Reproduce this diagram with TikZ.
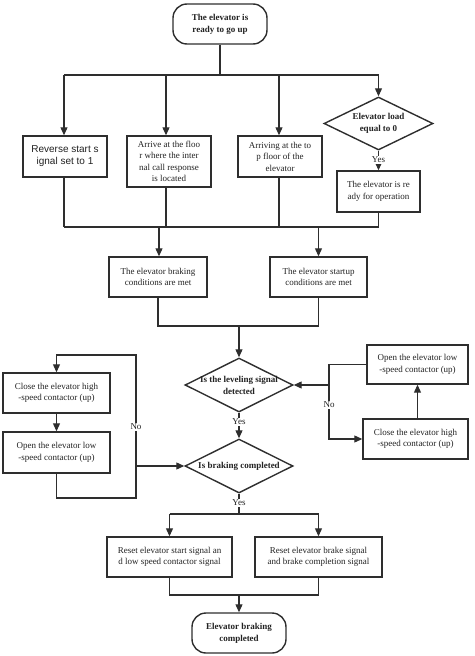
\documentclass[tikz,border=0pt]{standalone}
\usepackage{fontspec}
\setmainfont{Liberation Serif}
\newfontfamily\boxsans{Liberation Sans}
\usetikzlibrary{shapes.geometric,arrows.meta}
\definecolor{ln}{HTML}{2E2E2E}
\definecolor{tx}{HTML}{222222}
\tikzset{
  base/.style={draw=ln,line width=1.4pt,text=tx,inner sep=0pt,align=center,font=\fontsize{9}{11.5}\selectfont},
  proc/.style={base,rectangle},
  term/.style={base,rectangle,rounded corners=14pt,font=\fontsize{9}{12}\selectfont\bfseries},
  dec/.style={base,diamond},
  dtext/.style={text=tx,align=center,inner sep=0pt,font=\fontsize{9}{12}\selectfont\bfseries},
  lab/.style={fill=white,text=tx,inner sep=1pt,font=\fontsize{9}{11}\selectfont},
  conn/.style={draw=ln,line width=1.1pt},
  arr/.style={conn,-{Triangle[length=8pt,width=7pt]}}
}
\begin{document}
\begin{tikzpicture}[x=1pt,y=-1pt]
\useasboundingbox (0,0) rectangle (474,656);
% nodes
\node[term,minimum width=94pt,minimum height=40pt] (start) at (220,24) {The elevator is\\ready to go up};
\node[proc,minimum width=84pt,minimum height=41pt,font=\fontsize{10}{12}\selectfont\boxsans] (b1) at (65,156.5) {Reverse start s\\ignal set to 1};
\node[proc,minimum width=84pt,minimum height=51pt] (b2) at (169,161.5) {Arrive at the floo\\r where the inter\\nal call response\\is located};
\node[proc,minimum width=84pt,minimum height=41pt] (b3) at (280,156.5) {Arriving at the to\\p floor of the\\elevator};
\node[dec,minimum width=109pt,minimum height=53pt] (d0) at (378.5,123.5) {};
\node[dtext] at (d0) {Elevator load\\equal to 0};
\node[proc,minimum width=83pt,minimum height=41pt] (b4) at (378.5,191.5) {The elevator is re\\ady for operation};
\node[proc,minimum width=98pt,minimum height=40pt] (c1) at (158,277) {The elevator braking\\conditions are met};
\node[proc,minimum width=97pt,minimum height=40pt] (c2) at (318.5,277) {The elevator startup\\conditions are met};
\node[dec,minimum width=108pt,minimum height=54pt] (d1) at (239,385) {};
\node[dtext] at (d1) {Is the leveling signal\\detected};
\node[dec,minimum width=108pt,minimum height=54pt] (d2) at (239,466) {};
\node[dtext] at (d2) {Is braking completed};
\node[proc,minimum width=107pt,minimum height=40pt] (l1) at (56.5,393) {Close the elevator high\\-speed contactor (up)};
\node[proc,minimum width=107pt,minimum height=41pt] (l2) at (56.5,452.5) {Open the elevator low\\-speed contactor (up)};
\node[proc,minimum width=101pt,minimum height=39pt] (r1) at (417.5,364.5) {Open the elevator low\\-speed contactor (up)};
\node[proc,minimum width=105pt,minimum height=40pt] (r2) at (415.5,439) {Close the elevator high\\-speed contactor (up)};
\node[proc,minimum width=125pt,minimum height=40pt] (e1) at (169.5,557) {Reset elevator start signal an\\d low speed contactor signal};
\node[proc,minimum width=127pt,minimum height=40pt] (e2) at (318.5,557) {Reset elevator brake signal\\and brake completion signal};
\node[term,minimum width=94pt,minimum height=40pt] (end) at (239,633) {Elevator braking\\completed};
% junction coordinates
\coordinate (bus1) at (220,75);
\coordinate (t1) at (64,75);
\coordinate (t2) at (166,75);
\coordinate (t3) at (279,75);
\coordinate (t4) at (378.5,75);
\coordinate (bus2) at (0,227);
\coordinate (u1) at (64,227);
\coordinate (u4) at (378.5,227);
\coordinate (u5) at (159,227);
\coordinate (u6) at (318.5,227);
\coordinate (v1) at (158,326);
\coordinate (v2) at (318.5,326);
\coordinate (vm) at (239,326);
\coordinate (kr) at (329,385);
\coordinate (lt) at (136,355);
\coordinate (lb) at (136,498);
\coordinate (lm) at (136,466);
\coordinate (w0) at (239,514);
\coordinate (w1) at (169.5,514);
\coordinate (w2) at (318.5,514);
\coordinate (x1) at (169.5,595);
\coordinate (x2) at (318.5,595);
\coordinate (xm) at (239,595);
% top fan-out
\draw[conn] (start.south) -- (bus1);
\draw[conn] (t1) -- (t4);
\draw[arr] (t1) -- (t1 |- b1.north);
\draw[arr] (t2) -- (t2 |- b2.north);
\draw[arr] (t3) -- (t3 |- b3.north);
\draw[arr] (t4) -- (d0.north);
\draw[arr] (d0.south) -- (b4.north) node[lab,pos=0.45] {Yes};
% fan-in
\draw[conn] (b1.south -| u1) -- (u1);
\draw[conn] (b2.south -| t2) -- (t2 |- bus2);
\draw[conn] (b3.south -| t3) -- (t3 |- bus2);
\draw[conn] (b4.south) -- (u4);
\draw[conn] (u1) -- (u4);
\draw[arr] (u5) -- (c1.north -| u5);
\draw[arr] (u6) -- (c2.north);
\draw[conn] (c1.south) -- (v1) -- (v2) -- (c2.south);
\draw[arr] (vm) -- (d1.north);
% middle
\draw[arr] (d1.south) -- (d2.north) node[lab,pos=0.35] {Yes};
\draw[arr] (r1.west) -| (kr) |- (r2.west);
\draw[arr] (kr) -- (d1.east);
\node[lab] at (329,405) {No};
\draw[arr] (r2.north -| r1.south) -- (r1.south);
\draw[arr] (l1.south) -- (l2.north);
\draw[arr] (l2.south) |- (lb) -- (lt) -| (l1.north);
\draw[arr] (lm) -- (d2.west);
\node[lab] at (136,427) {No};
% bottom
\draw[conn] (d2.south) -- (w0);
\node[lab] at (239,503) {Yes};
\draw[conn] (w1) -- (w2);
\draw[arr] (w1) -- (e1.north);
\draw[arr] (w2) -- (e2.north);
\draw[conn] (e1.south) -- (x1) -- (x2) -- (e2.south);
\draw[arr] (xm) -- (end.north);
\end{tikzpicture}
\end{document}
